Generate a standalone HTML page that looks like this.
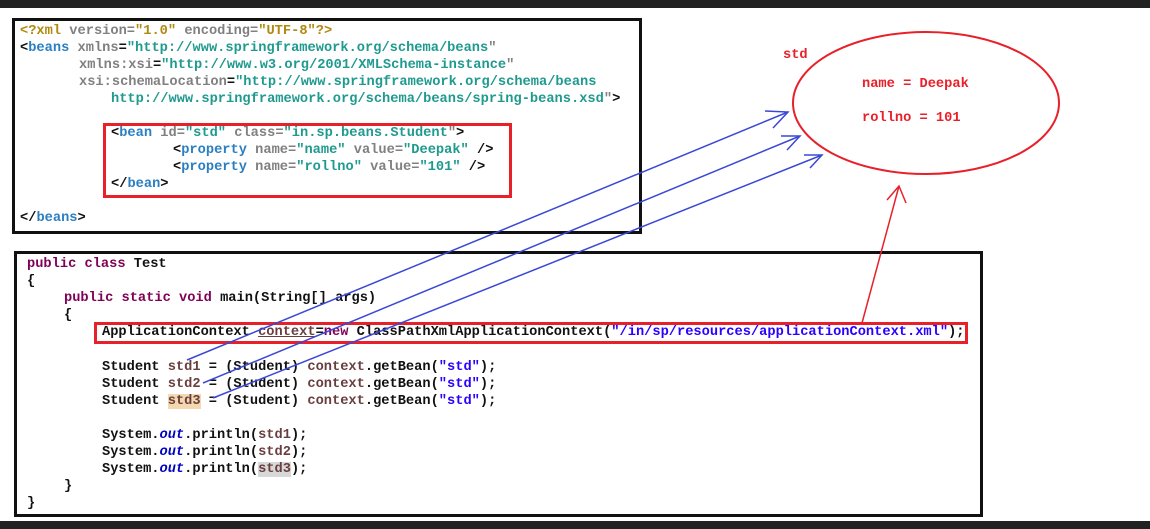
<!DOCTYPE html>
<html><head><meta charset="utf-8"><style>
body{margin:0;width:1150px;height:529px;background:#fff;position:relative;overflow:hidden;font-family:"Liberation Mono",monospace;font-size:13.7px;font-weight:bold;}
.bar{position:absolute;left:0;width:1150px;background:#222;}
.box{position:absolute;border:3px solid #111;box-sizing:border-box;}
.rbox{position:absolute;border:3px solid #e8202a;box-sizing:border-box;}
.l{position:absolute;white-space:pre;line-height:17px;height:17px;color:#111;}
.t{color:#2a7fc2}.a{color:#808080}.v{color:#1f9a8f}.d{color:#b08a10}
.k{color:#7f0055}.f{color:#6a3e3e}.s{color:#2a00ff}.o{color:#0000c0;font-style:italic}
.r{position:absolute;color:#e8202a;white-space:pre;line-height:17px;}
</style></head><body>
<div class="bar" style="top:0;height:8px"></div>
<div class="bar" style="top:521px;height:8px"></div>

<div class="box" style="left:12px;top:18px;width:630px;height:216px"></div>
<div class="rbox" style="left:103px;top:123px;width:409px;height:75px"></div>
<div class="l" style="left:20px;top:23px"><span class="d">&lt;?xml</span> <span class="a">version=</span><span class="d">"1.0"</span> <span class="a">encoding=</span><span class="d">"UTF-8"?&gt;</span></div>
<div class="l" style="left:20px;top:40px">&lt;<span class="t">beans</span> <span class="a">xmlns</span>=<span class="v">"http://www.springframework.org/schema/beans</span><span class="a">"</span></div>
<div class="l" style="left:79px;top:57px"><span class="a">xmlns:xsi</span>=<span class="v">"http://www.w3.org/2001/XMLSchema-instance</span><span class="a">"</span></div>
<div class="l" style="left:79px;top:74px"><span class="a">xsi:schemaLocation</span>=<span class="v">"http://www.springframework.org/schema/beans</span></div>
<div class="l" style="left:111px;top:91px"><span class="v">http://www.springframework.org/schema/beans/spring-beans.xsd</span><span class="a">"</span>&gt;</div>
<div class="l" style="left:111px;top:125px">&lt;<span class="t">bean</span> <span class="a">id=</span><span class="v">"std"</span> <span class="a">class=</span><span class="v">"in.sp.beans.Student</span><span class="a">"</span>&gt;</div>
<div class="l" style="left:173px;top:142px">&lt;<span class="t">property</span> <span class="a">name=</span><span class="v">"name"</span> <span class="a">value=</span><span class="v">"Deepak"</span> /&gt;</div>
<div class="l" style="left:173px;top:159px">&lt;<span class="t">property</span> <span class="a">name=</span><span class="v">"rollno"</span> <span class="a">value=</span><span class="v">"101"</span> /&gt;</div>
<div class="l" style="left:111px;top:176px">&lt;/<span class="t">bean</span>&gt;</div>
<div class="l" style="left:20px;top:210px">&lt;/<span class="t">beans</span>&gt;</div>

<div class="box" style="left:14px;top:251px;width:969px;height:266px"></div>
<div class="rbox" style="left:94px;top:322px;width:874px;height:22px"></div>
<div class="l" style="left:27px;top:256px"><span class="k">public class</span> Test</div>
<div class="l" style="left:27px;top:273px">{</div>
<div class="l" style="left:64px;top:290px"><span class="k">public static void</span> main(String[] args)</div>
<div class="l" style="left:64px;top:307px">{</div>
<div class="l" style="left:102px;top:324px">ApplicationContext <span style="text-decoration:underline;color:#6a3e3e">context</span>=<span class="k">new</span> ClassPathXmlApplicationContext(<span class="s">"/in/sp/resources/applicationContext.xml"</span>);</div>
<div class="l" style="left:102px;top:359px">Student <span class="f">std1</span> = (Student) <span class="f">context</span>.getBean(<span class="s">"std"</span>);</div>
<div class="l" style="left:102px;top:376px">Student <span class="f">std2</span> = (Student) <span class="f">context</span>.getBean(<span class="s">"std"</span>);</div>
<div class="l" style="left:102px;top:393px">Student <span class="f" style="background:#f3d9b0">std3</span> = (Student) <span class="f">context</span>.getBean(<span class="s">"std"</span>);</div>
<div class="l" style="left:102px;top:427px">System.<span class="o">out</span>.println(<span class="f">std1</span>);</div>
<div class="l" style="left:102px;top:444px">System.<span class="o">out</span>.println(<span class="f">std2</span>);</div>
<div class="l" style="left:102px;top:461px">System.<span class="o">out</span>.println(<span class="f" style="background:#d8d8d8">std3</span>);</div>
<div class="l" style="left:64px;top:478px">}</div>
<div class="l" style="left:27px;top:495px">}</div>

<div class="r" style="left:783px;top:47px">std</div>
<div class="r" style="left:862px;top:76px">name = Deepak</div>
<div class="r" style="left:862px;top:110px">rollno = 101</div>

<svg width="1150" height="529" style="position:absolute;left:0;top:0" fill="none">
<ellipse cx="926" cy="103" rx="133" ry="71" stroke="#e8202a" stroke-width="2"/>
<g stroke="#3a48d6" stroke-width="1.5">
<line x1="187" y1="360" x2="788" y2="112"/><polyline points="765,111 788,112 773,128"/>
<line x1="203" y1="383" x2="800" y2="136"/><polyline points="781,136 800,136 787,150"/>
<line x1="213" y1="398" x2="822" y2="155"/><polyline points="804,155 822,155 810,168"/>
</g>
<g stroke="#e8202a" stroke-width="1.5">
<line x1="862" y1="323" x2="899" y2="186"/><polyline points="887,200 899,186 906,203"/>
</g>
</svg>
</body></html>
